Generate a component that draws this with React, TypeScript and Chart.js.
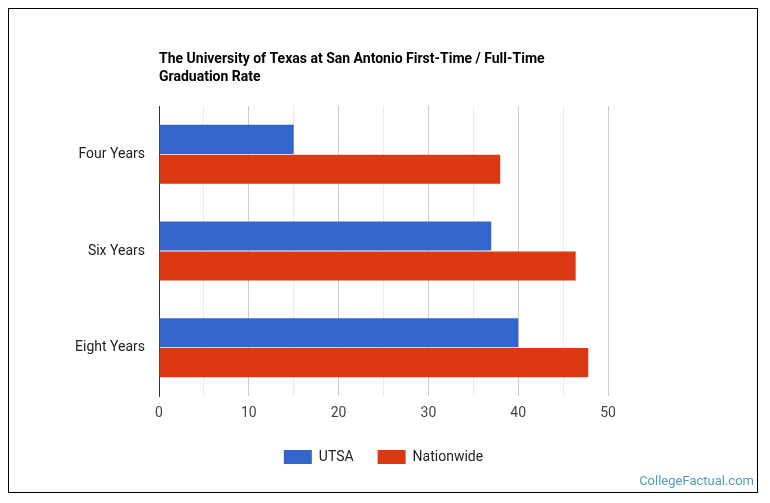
import React, { useEffect, useRef } from "react";
import { Chart, registerables } from "chart.js";

Chart.register(...registerables);

const categories = ["Four Years", "Six Years", "Eight Years"];
const utsaRates = [15, 37, 40];
const nationwideRates = [38, 46.4, 47.8];
const seriesNames = ["UTSA", "Nationwide"];
const titleLines = [
  "The University of Texas at San Antonio First-Time / Full-Time",
  "Graduation Rate",
];

const App: React.FC = () => {
  const chartRef = useRef<HTMLCanvasElement | null>(null);

  useEffect(() => {
    if (!chartRef.current) return;
    const ctx = chartRef.current.getContext("2d");
    if (!ctx) return;

    const font = "Roboto";

    const myChart = new Chart(ctx, {
      type: "bar",
      data: {
        labels: categories,
        datasets: [
          {
            label: seriesNames[0],
            data: utsaRates,
            backgroundColor: "#3366cc",
            categoryPercentage: 0.62,
            barPercentage: 0.97,
          },
          {
            label: seriesNames[1],
            data: nationwideRates,
            backgroundColor: "#dc3912",
            categoryPercentage: 0.62,
            barPercentage: 0.97,
          },
        ],
      },
      options: {
        indexAxis: "y",
        animation: false,
        responsive: false,
        layout: {
          padding: { left: 0, right: 149, top: 32, bottom: 18 },
        },
        plugins: {
          title: {
            display: true,
            text: titleLines,
            align: "start",
            fullSize: false,
            color: "#000",
            font: { family: font, size: 14, weight: "bold", lineHeight: 1.25 },
            padding: { top: 10, bottom: 20 },
          },
          legend: {
            position: "bottom",
            fullSize: false,
            labels: {
              boxWidth: 28,
              boxHeight: 14,
              padding: 24,
              color: "#222",
              font: { family: font, size: 14 },
            },
          },
          tooltip: { enabled: false },
        },
        scales: {
          x: {
            min: 0,
            max: 50,
            afterFit: (s) => {
              s.height = 30;
            },
            ticks: {
              stepSize: 5,
              padding: 9,
              color: "#444",
              font: { family: font, size: 14 },
              callback: (v) => (Number(v) % 10 === 0 ? String(v) : ""),
            },
            grid: {
              drawTicks: false,
              color: (c) =>
                c.tick && c.tick.value === 0
                  ? "#333"
                  : c.tick && c.tick.value % 10 === 0
                  ? "#cccccc"
                  : "#ebebeb",
            },
            border: { display: false },
          },
          y: {
            afterFit: (s) => {
              s.width = 150;
            },
            ticks: {
              padding: 14,
              color: "#222",
              font: { family: font, size: 14 },
            },
            grid: { display: false, drawTicks: false },
            border: { display: true, color: "#333", width: 1 },
          },
        },
      },
    });

    return () => {
      myChart.destroy();
    };
  }, []);

  return (
    <div
      style={{
        position: "relative",
        width: 748,
        height: 483,
        border: "1px solid #000",
        background: "#fff",
      }}
    >
      <canvas ref={chartRef} width={748} height={483} style={{ display: "block" }} />
      <div
        style={{
          position: "absolute",
          right: 3,
          bottom: 4,
          fontFamily: "Roboto",
          fontSize: 13,
          color: "#4f9fb4",
        }}
      >
        CollegeFactual.com
      </div>
    </div>
  );
};

export default App;
